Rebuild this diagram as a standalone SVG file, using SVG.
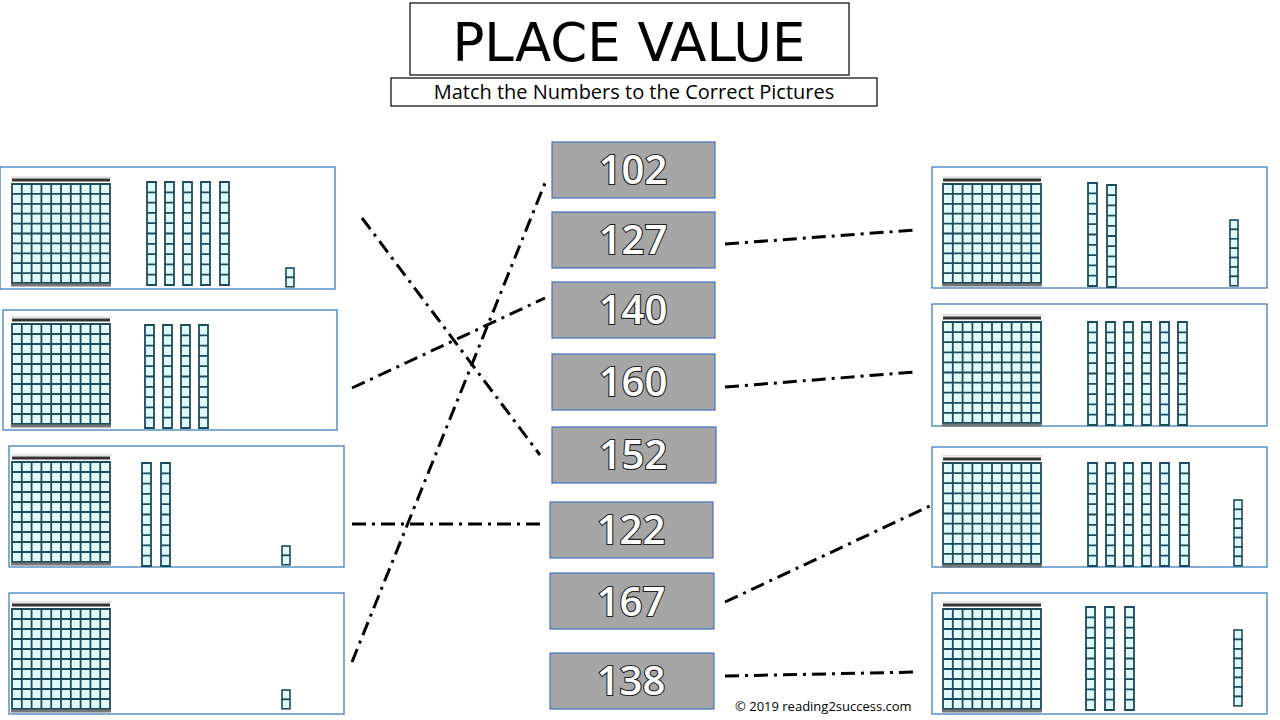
<svg xmlns="http://www.w3.org/2000/svg" xmlns:xlink="http://www.w3.org/1999/xlink" width="1280" height="720" viewBox="0 0 1280 720">
<style>
.panel{fill:#fff;stroke:#2e75b6;stroke-width:1.2}
.num rect{fill:#a6a6a6;stroke:#4472c4;stroke-width:1.2}
.num text{font-family:"Open Sans","Liberation Sans",sans-serif;font-size:40px;font-weight:600;fill:#fff;stroke:#222;stroke-width:2.2;paint-order:stroke;text-anchor:middle}
.c path{fill:none;stroke:#000;stroke-width:3;stroke-dasharray:14 6 3 6}
.g{fill:#dffaf8;stroke:#1e4b5c;stroke-width:1.8;vector-effect:non-scaling-stroke}
.u{fill:#dffaf8;stroke:#1e4b5c;stroke-width:1.6}
</style>
<defs>
<symbol id="h" viewBox="0 0 100 100" preserveAspectRatio="none" overflow="visible">
<rect class="g" x="0" y="0" width="100" height="100"/>
<path class="g" d="M10 0V100M20 0V100M30 0V100M40 0V100M50 0V100M60 0V100M70 0V100M80 0V100M90 0V100M0 10H100M0 20H100M0 30H100M0 40H100M0 50H100M0 60H100M0 70H100M0 80H100M0 90H100"/>
<path d="M0 -4H100" stroke="#333" stroke-width="3" vector-effect="non-scaling-stroke"/>
<path d="M-1 -7H102" stroke="#ccc" stroke-width="1" vector-effect="non-scaling-stroke"/>
<path d="M-1 102H101" stroke="#777" stroke-width="3" vector-effect="non-scaling-stroke"/>
</symbol>
<symbol id="t" viewBox="0 0 10 100" preserveAspectRatio="none" overflow="visible">
<rect class="g" x="0" y="0" width="10" height="100"/>
<path class="g" d="M0 10H10M0 20H10M0 30H10M0 40H10M0 50H10M0 60H10M0 70H10M0 80H10M0 90H10"/>
</symbol>
<symbol id="u" viewBox="0 0 8 9.4" overflow="visible"><rect class="u" x="0" y="0" width="8" height="9.4"/></symbol>
</defs>
<rect width="1280" height="720" fill="#fff"/>
<g id="title">
<rect x="410" y="3" width="439" height="72" fill="#fff" stroke="#000" stroke-width="1.2"/>
<text x="629" y="61" font-family="'DejaVu Sans','Liberation Sans',sans-serif" font-size="54" text-anchor="middle" transform="translate(629 0) scale(0.98 1) translate(-629 0)">PLACE VALUE</text>
<rect x="391" y="78" width="486" height="28" fill="#fff" stroke="#000" stroke-width="1.2"/>
<text x="634" y="99" font-family="'Open Sans','Liberation Sans',sans-serif" font-size="20" text-anchor="middle">Match the Numbers to the Correct Pictures</text>
</g>
<g id="left1"><rect class="panel" x="0" y="167" width="335" height="122"/>
<use href="#h" x="12" y="184" width="98" height="99"/>
<use href="#t" x="147" y="182" width="9" height="103"/><use href="#t" x="165" y="182" width="9" height="103"/><use href="#t" x="183" y="182" width="9" height="103"/><use href="#t" x="201" y="182" width="9" height="103"/><use href="#t" x="220" y="182" width="9" height="103"/>
<use href="#u" x="286" y="268" width="8" height="9.4"/><use href="#u" x="286" y="277.4" width="8" height="9.4"/></g>
<g id="left2"><rect class="panel" x="3" y="310" width="334" height="120"/>
<use href="#h" x="12" y="324" width="98" height="100"/>
<use href="#t" x="145" y="325" width="9" height="103"/><use href="#t" x="163" y="325" width="9" height="103"/><use href="#t" x="181" y="325" width="9" height="103"/><use href="#t" x="199" y="325" width="9" height="103"/></g>
<g id="left3"><rect class="panel" x="9" y="446" width="335" height="121"/>
<use href="#h" x="12" y="462" width="98" height="100"/>
<use href="#t" x="142" y="463" width="9" height="103"/><use href="#t" x="161" y="463" width="9" height="103"/>
<use href="#u" x="282" y="546" width="8" height="9.4"/><use href="#u" x="282" y="555.4" width="8" height="9.4"/></g>
<g id="left4"><rect class="panel" x="9" y="593" width="335" height="121"/>
<use href="#h" x="12" y="609" width="98" height="100"/>
<use href="#u" x="282" y="690" width="8" height="9.4"/><use href="#u" x="282" y="699.4" width="8" height="9.4"/></g>
<g id="right1"><rect class="panel" x="932" y="167" width="335" height="121"/>
<use href="#h" x="943" y="184" width="98" height="99"/>
<use href="#t" x="1088" y="183" width="9" height="103"/><use href="#t" x="1107" y="185" width="9" height="102"/>
<use href="#u" x="1230" y="220" width="8" height="9.4"/><use href="#u" x="1230" y="229.4" width="8" height="9.4"/><use href="#u" x="1230" y="238.8" width="8" height="9.4"/><use href="#u" x="1230" y="248.2" width="8" height="9.4"/><use href="#u" x="1230" y="257.6" width="8" height="9.4"/><use href="#u" x="1230" y="267" width="8" height="9.4"/><use href="#u" x="1230" y="276.4" width="8" height="9.4"/></g>
<g id="right2"><rect class="panel" x="932" y="304" width="335" height="122"/>
<use href="#h" x="943" y="322" width="98" height="101"/>
<use href="#t" x="1088" y="322" width="9" height="103"/><use href="#t" x="1106" y="322" width="9" height="103"/><use href="#t" x="1124" y="322" width="9" height="103"/><use href="#t" x="1142" y="322" width="9" height="103"/><use href="#t" x="1160" y="322" width="9" height="103"/><use href="#t" x="1178" y="322" width="9" height="103"/></g>
<g id="right3"><rect class="panel" x="932" y="447" width="335" height="120"/>
<use href="#h" x="943" y="463" width="98" height="101"/>
<use href="#t" x="1088" y="463" width="9" height="103"/><use href="#t" x="1106" y="463" width="9" height="103"/><use href="#t" x="1124" y="463" width="9" height="103"/><use href="#t" x="1142" y="463" width="9" height="103"/><use href="#t" x="1160" y="463" width="9" height="103"/><use href="#t" x="1180" y="463" width="9" height="103"/>
<use href="#u" x="1234" y="500" width="8" height="9.4"/><use href="#u" x="1234" y="509.4" width="8" height="9.4"/><use href="#u" x="1234" y="518.8" width="8" height="9.4"/><use href="#u" x="1234" y="528.2" width="8" height="9.4"/><use href="#u" x="1234" y="537.6" width="8" height="9.4"/><use href="#u" x="1234" y="547" width="8" height="9.4"/><use href="#u" x="1234" y="556.4" width="8" height="9.4"/></g>
<g id="right4"><rect class="panel" x="932" y="593" width="335" height="121"/>
<use href="#h" x="943" y="609" width="98" height="100"/>
<use href="#t" x="1086" y="607" width="9" height="103"/><use href="#t" x="1105" y="607" width="9" height="103"/><use href="#t" x="1125" y="607" width="9" height="103"/>
<use href="#u" x="1234" y="630" width="8" height="9.4"/><use href="#u" x="1234" y="639.5" width="8" height="9.4"/><use href="#u" x="1234" y="649" width="8" height="9.4"/><use href="#u" x="1234" y="658.5" width="8" height="9.4"/><use href="#u" x="1234" y="668" width="8" height="9.4"/><use href="#u" x="1234" y="677.5" width="8" height="9.4"/><use href="#u" x="1234" y="687" width="8" height="9.4"/><use href="#u" x="1234" y="696.5" width="8" height="9.4"/></g>
<g id="n102" class="num"><rect x="552" y="142" width="163" height="56"/><text x="633" y="184">102</text></g>
<g id="n127" class="num"><rect x="552" y="212" width="163" height="56"/><text x="633" y="254">127</text></g>
<g id="n140" class="num"><rect x="552" y="282" width="163" height="56"/><text x="633" y="324">140</text></g>
<g id="n160" class="num"><rect x="552" y="354" width="163" height="56"/><text x="633" y="396">160</text></g>
<g id="n152" class="num"><rect x="552" y="427" width="164" height="56"/><text x="633" y="469">152</text></g>
<g id="n122" class="num"><rect x="550" y="502" width="163" height="56"/><text x="631" y="544">122</text></g>
<g id="n167" class="num"><rect x="550" y="573" width="164" height="56"/><text x="631" y="616">167</text></g>
<g id="n138" class="num"><rect x="550" y="653" width="164" height="56"/><text x="631" y="695">138</text></g>
<g id="connectors" class="c">
<path d="M362 218L540 455"/>
<path d="M352 388L545 298"/>
<path d="M352 524L540 524"/>
<path d="M352 662L545 183"/>
<path d="M725 244L915 230"/>
<path d="M725 387L915 372"/>
<path d="M725 602L932 505"/>
<path d="M725 676L918 672"/>
</g>
<text x="735" y="711" font-family="'Open Sans','Liberation Sans',sans-serif" font-size="13">© 2019 reading2success.com</text>
</svg>
